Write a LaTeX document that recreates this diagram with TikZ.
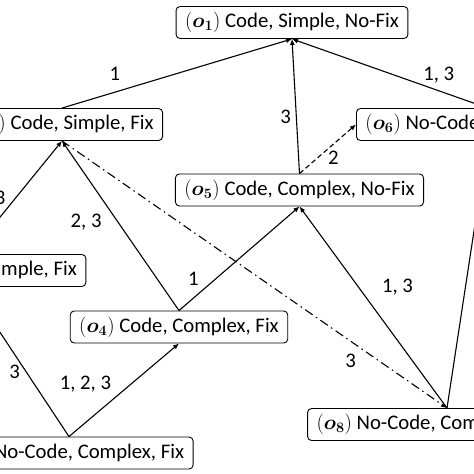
\documentclass[tikz,border=0pt]{standalone}
\usepackage{fontspec}
\usepackage{bm}
\setmainfont{Carlito}
\usetikzlibrary{arrows.meta}

\tikzset{
  obj/.style={draw, rounded corners=4pt, line width=0.9pt, minimum height=32pt, inner xsep=9pt},
  lbl/.style={inner sep=2pt},
  arc/.style={-{Latex[length=6pt,width=5pt]}, line width=1.1pt}
}

\begin{document}
\begin{tikzpicture}[x=1pt, y=-1pt, font=\fontsize{20.74}{24}\selectfont]
            \useasboundingbox (0,0) rectangle (474,474);
            \clip (0,0) rectangle (474,474);

            \node[obj] (o1) at (292,22.5) {$(\bm{o}_{\bm{1}})$ Code, Simple, No-Fix};
            \node[obj] (o2) at (62,124.5) {$(\bm{o}_{\bm{2}})$ Code, Simple, Fix};
            \node[obj] (o3) at (-30,270.5) {$(\bm{o}_{\bm{3}})$ No-Code, Simple, Fix};
            \node[obj] (o4) at (179,327) {$(\bm{o}_{\bm{4}})$ Code, Complex, Fix};
            \node[obj] (o5) at (299.5,190) {$(\bm{o}_{\bm{5}})$ Code, Complex, No-Fix};
            \node[obj, anchor=west] (o6) at (356,124.5) {$(\bm{o}_{\bm{6}})$ No-Code, Simple, No-Fix};
            \node[obj] (o7) at (69,453) {$(\bm{o}_{\bm{7}})$ No-Code, Complex, Fix};
            \node[obj] (o8) at (447,424.5) {$(\bm{o}_{\bm{8}})$ No-Code, Complex, No-Fix};

            \draw[arc] (o2.north) -- node[lbl, pos=.23, above=9pt] {1} (o1.south);
            \draw[arc] (o5.north) -- node[lbl, pos=.42, left=3pt] {3} (o1.south);
            \draw[arc] (o6.north) -- node[lbl, pos=.25, above=5pt] {1, 3} (o1.south);
            \draw[arc, dash pattern=on 5pt off 3pt] (o5.north) -- node[lbl, pos=.6, below=4pt] {2} (o6.west);
            \draw[arc] (o3.north) -- node[lbl, pos=.5, left=8pt] {3} (o2.south);
            \draw[arc] (o4.north) -- node[lbl, pos=.52, left=14pt] {2, 3} (o2.south);
            \draw[arc] (o4.north) -- node[lbl, pos=.3, left=14pt] {1} (o5.south);
            \draw[arc] (o8.north) -- node[lbl, pos=.6, right=21pt] {1, 3} (o5.south);
            \draw[arc] (o8.north) -- (o6.south);
            \draw[arc, dash pattern=on 9pt off 4pt on 1.5pt off 4pt] (o2.south) -- node[lbl, pos=.75, below=10pt] {3} (o8.north);
            \draw[arc] (o7.north) -- node[lbl, pos=.56, left=17pt] {1, 2, 3} (o4.south);
            \draw[arc] (o7.north) -- node[lbl, pos=.43, left=4pt] {3} (o3.south);
        \end{tikzpicture}
\end{document}
